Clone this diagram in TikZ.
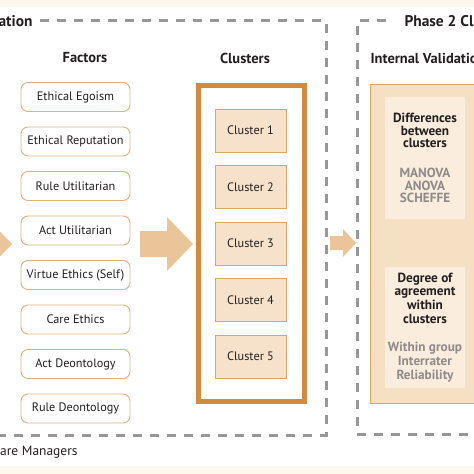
\documentclass[tikz,border=0pt]{standalone}
\usepackage{fontspec}
\setmainfont{PT Sans}
\usetikzlibrary{positioning}

\definecolor{ink}{HTML}{231F20}
\definecolor{softgray}{HTML}{8E8B8A}
\definecolor{dashgray}{HTML}{979797}
\definecolor{factorline}{HTML}{DDB27C}
\definecolor{clusterframe}{HTML}{D38A3C}
\definecolor{clusterline}{HTML}{DBA66C}
\definecolor{clusterfill}{HTML}{F6E2CA}
\definecolor{panelline}{HTML}{E0A461}
\definecolor{panelfill}{HTML}{F6E0C4}
\definecolor{testfill}{HTML}{FAEDDD}
\definecolor{arrowtan}{HTML}{EBC59A}
\definecolor{cream}{HTML}{FDF8EE}

\tikzset{
  phase/.style={draw=dashgray, line width=3bp, dash pattern=on 9bp off 8bp},
  title/.style={font=\bfseries\fontsize{15.5}{17}\selectfont, text=ink},
  header/.style={font=\bfseries\fontsize{14.5}{16}\selectfont, text=ink},
  factor/.style={draw=factorline, line width=0.9bp, rounded corners=7bp,
    minimum width=109bp, minimum height=29bp, inner sep=0pt,
    font=\fontsize{12.3}{14}\selectfont, text=ink},
  cluster/.style={draw=clusterline, fill=clusterfill, line width=0.7bp,
    minimum width=71bp, minimum height=43bp, inner sep=0pt,
    font=\fontsize{12.3}{14}\selectfont, text=ink},
  test/.style={fill=testfill, minimum width=80bp, inner sep=0pt, align=center,
    font=\bfseries\fontsize{13.3}{12.6}\selectfont, text=ink},
}

\begin{document}
\begin{tikzpicture}[x=1bp,y=-1bp]
  \useasboundingbox (0,0) rectangle (474,474);
  \clip (0,0) rectangle (474,474);
  \fill[cream] (0,0) rectangle (474,7);
  \fill[cream] (0,466) rectangle (474,474);

  % phase frames
  \draw[phase] (40,21) -- (326,21) -- (326,435) -- (-5,435);
  \draw[phase] (386,21) -- (357,21) -- (357,434) -- (490,434);
  \node[title, anchor=east] (phaseone) at (36,21) {ation};
  \node[title, anchor=west] (phasetwo) at (401,21) {Phase 2 Cl};
  \node[anchor=west, inner sep=0pt, text=ink, font=\fontsize{13.5}{15}\selectfont]
    (managers) at (0,452) {are Managers};

  % column headers
  \node[header] (factors) at (85,58) {Factors};
  \node[header] (clusters) at (245,58) {Clusters};
  \node[header, anchor=west] (internal) at (367,58) {Internal Validatio};

  % factors
  \foreach \name/\txt [count=\i] in {egoism/Ethical Egoism,
      reputation/Ethical Reputation, ruleutil/Rule Utilitarian,
      actutil/Act Utilitarian, virtue/Virtue Ethics (Self),
      care/Care Ethics, actdeon/Act Deontology, ruledeon/Rule Deontology}
    \node[factor] (\name) at (75.5,52.5+44.5*\i) {\txt};

  % clusters
  \node[draw=clusterframe, line width=5bp, minimum width=106bp,
    minimum height=316bp, inner sep=0pt] (frame) at (251.5,243.5) {};
  \foreach \i in {1,...,5}
    \node[cluster] (c\i) at (250.5,74+56.5*\i) {Cluster \i};

  % block arrows
  \fill[arrowtan] (-41,231) -- (-14,231) -- (-14,217) -- (12,244)
    -- (-14,271) -- (-14,257) -- (-41,257) -- cycle;
  \fill[arrowtan] (140,231) -- (167,231) -- (167,217) -- (193,244)
    -- (167,271) -- (167,257) -- (140,257) -- cycle;
  \fill[arrowtan] (330,236) -- (343,236) -- (343,229) -- (356,243)
    -- (343,257) -- (343,250) -- (330,250) -- cycle;

  % internal validation
  \node[draw=panelline, fill=panelfill, line width=1bp, anchor=north west,
    minimum width=200bp, minimum height=319bp] (panel) at (370,84) {};
  \node[test, minimum height=122bp] (between) at (425,158)
    {Differences\\between\\clusters\\[17.4bp]
     \textcolor{softgray}{MANOVA}\\\textcolor{softgray}{ANOVA}\\\textcolor{softgray}{SCHEFFE}};
  \node[test, minimum height=121bp, font=\bfseries\fontsize{13.3}{14}\selectfont]
    (within) at (425,327.5)
    {Degree of\\agreement\\within\\clusters\\[14bp]
     \textcolor{softgray}{Within group}\\\textcolor{softgray}{Interrater}\\\textcolor{softgray}{Reliability}};
\end{tikzpicture}
\end{document}
